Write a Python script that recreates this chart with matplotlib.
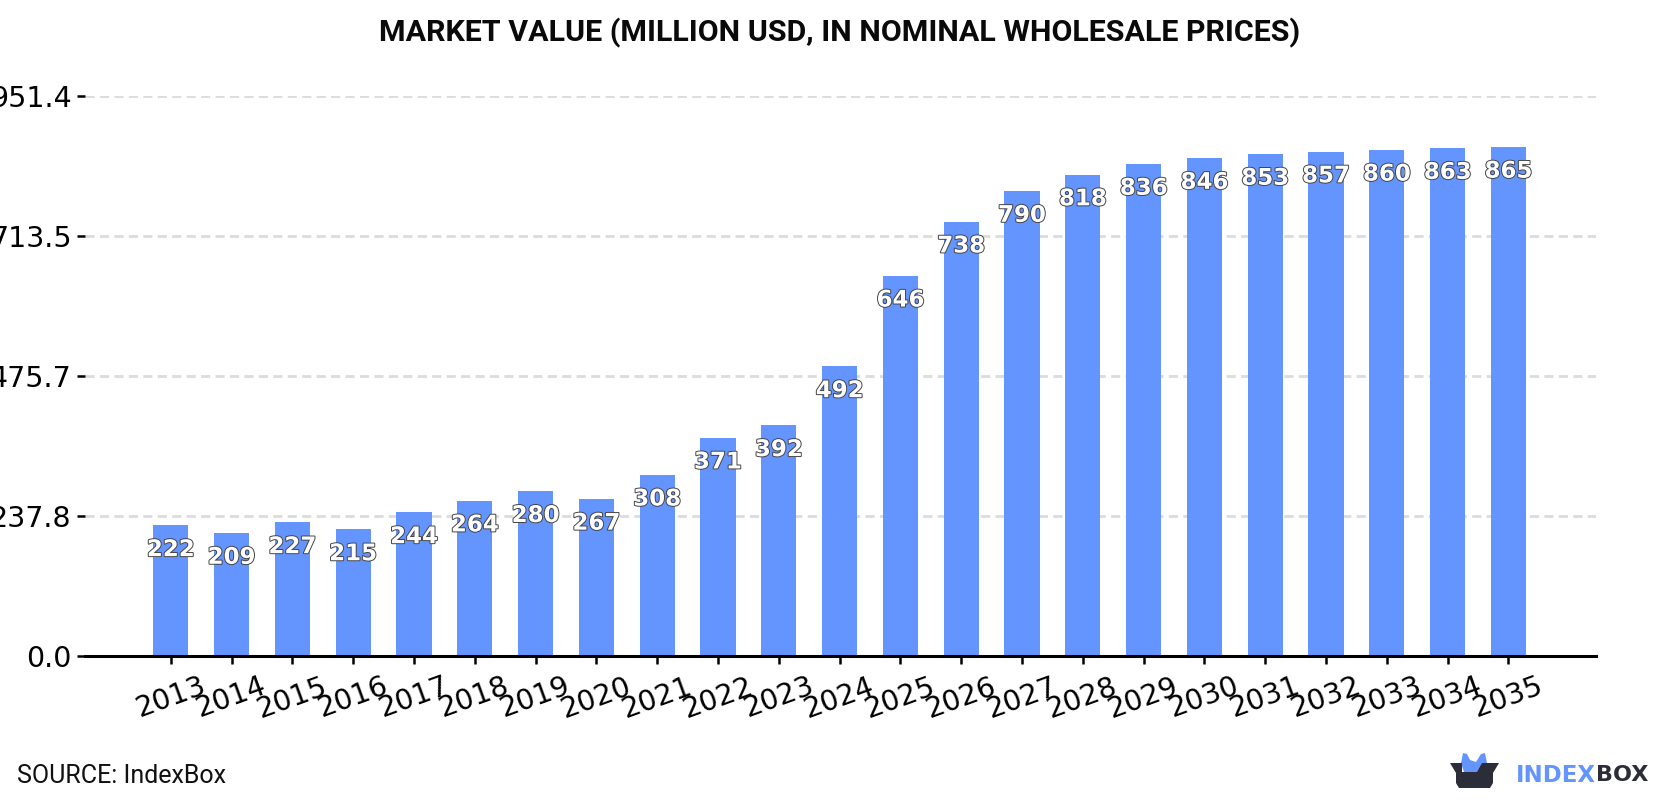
import matplotlib
matplotlib.use("Agg")
import matplotlib.pyplot as plt
import matplotlib.patheffects as pe
from matplotlib.patches import Polygon

years = list(range(2013, 2036))
values = [222, 209, 227, 215, 244, 264, 280, 267, 308, 371, 392, 492,
          646, 738, 790, 818, 836, 846, 853, 857, 860, 863, 865]
y_ticks = [0.0, 237.8, 475.7, 713.5, 951.4]

BLUE = "#6495ff"
DARK = "#2b2d38"
W, H = 1680, 800

fig = plt.figure(figsize=(W / 100, H / 100), dpi=100, facecolor="white")
ax = fig.add_axes([85 / W, 1 - 656 / H, (1596 - 85) / W, (656 - 96) / H])

x = list(range(len(years)))
ax.bar(x, values, width=0.58, color=BLUE, zorder=3)

ax.set_xlim(-1.41, 23.44)
ax.set_ylim(0, 951.4)
ax.set_xticks(x)
ax.set_xticklabels(years, rotation=20, ha="center", rotation_mode="default")
ax.set_yticks(y_ticks)
ax.set_yticklabels([f"{t:.1f}" for t in y_ticks])
ax.tick_params(axis="both", labelsize=20.5, width=1.8, length=5.5, color="black", labelcolor="black")
ax.tick_params(axis="y", pad=4)
ax.tick_params(axis="x", pad=6)

ax.grid(axis="y", color="#dcdcdc", linewidth=2.0, linestyle=(0, (3.3, 1.9)), zorder=0)
ax.set_axisbelow(True)
for name in ["top", "left", "right"]:
    ax.spines[name].set_visible(False)
ax.spines["bottom"].set_linewidth(2.2)
ax.spines["bottom"].set_zorder(4)

# value labels sit a fixed distance below each bar top
for xi, v in zip(x, values):
    ax.annotate(str(v), (xi, v), xytext=(0, -17.5), textcoords="offset points",
                ha="center", va="center", fontsize=16.5, fontweight="bold",
                color="white", zorder=5,
                path_effects=[pe.withStroke(linewidth=1.4, foreground="#444444")])

fig.text(840 / W, 1 - 33 / H, "MARKET VALUE (MILLION USD, IN NOMINAL WHOLESALE PRICES)",
         ha="center", va="center", family="Roboto", fontweight="bold", fontsize=21.9, color="#0a0a0a")
fig.text(17 / W, 1 - 776 / H, "SOURCE: IndexBox", ha="left", va="center",
         family="Roboto", fontsize=18, color="#111111")

# logo
logo = fig.add_axes([0, 0, 1, 1], zorder=10)
logo.set_xlim(0, W)
logo.set_ylim(H, 0)
logo.axis("off")
logo.patch.set_alpha(0)
logo.add_patch(Polygon([[1461, 763], [1463, 753], [1467, 754], [1470, 760], [1476, 762],
                       [1481, 754], [1485, 753], [1487, 763], [1487, 768], [1477, 772],
                       [1464, 772]], closed=True, color=BLUE, lw=0, zorder=2))
logo.add_patch(Polygon([[1450, 763], [1462, 763], [1462, 772], [1477, 772], [1482, 763],
                       [1499, 763], [1493, 773], [1493, 783], [1490, 788], [1459, 788],
                       [1456, 783], [1456, 773]], closed=True, color=DARK, lw=0, zorder=3))
logo.text(1516, 775, "INDEX", ha="left", va="center", family="DejaVu Sans",
          fontweight="bold", fontsize=16.5, color=BLUE)
logo.text(1596, 775, "BOX", ha="left", va="center", family="DejaVu Sans",
          fontweight="bold", fontsize=16, color=DARK)

fig.savefig("out.png", dpi=100, facecolor="white")
